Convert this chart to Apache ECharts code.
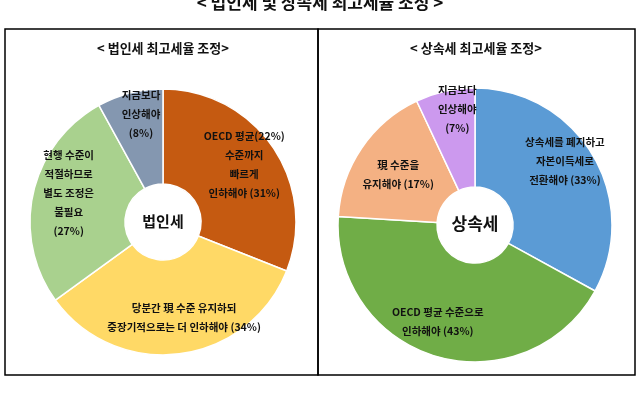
<!DOCTYPE html><html><head><meta charset="utf-8"><script src="https://cdn.jsdelivr.net/npm/echarts@6/dist/echarts.min.js"></script></head><body style="margin:0;background:#fff"><div id="c" style="width:640px;height:402px"></div><script>
const leftNames=['OECD 평균(22%)\n수준까지\n빠르게\n인하해야 (31%)','당분간 現 수준 유지하되\n중장기적으로는 더 인하해야 (34%)','현행 수준이\n적절하므로\n별도 조정은\n불필요\n(27%)','지금보다\n인상해야\n(8%)'];
const leftVals=[31,34,27,8];
const leftColors=['#C55A11','#FFD966','#A9D18E','#8497B0'];
const rightNames=['상속세를 폐지하고\n자본이득세로\n전환해야 (33%)','OECD 평균 수준으로\n인하해야 (43%)','現 수준을\n유지해야 (17%)','지금보다\n인상해야\n(7%)'];
const rightVals=[33,43,17,7];
const rightColors=['#5B9BD5','#70AD47','#F4B183','#CC99EE'];
const leftOff=[[8,-8],[10,8],[-8,-10],[0,-22]];
const rightOff=[[12,-18],[-12,10],[-2,0],[2,-28]];
const F='"Noto Sans CJK KR"';
function mk(names,vals,cols,offs,cx,cy,r){return {type:'pie',center:[cx,cy],radius:[38,r],startAngle:90,clockwise:true,
 itemStyle:{borderColor:'#fff',borderWidth:1.5},labelLine:{show:false},
 data:vals.map((v,i)=>({value:v,name:names[i],itemStyle:{color:cols[i]},label:{offset:offs[i],color:(cols[i]=='#C55A11'||cols[i]=='#5B9BD5'||cols[i]=='#70AD47')?'#111':'#111'}})),
 label:{position:'inside',formatter:'{b}',fontFamily:F,fontSize:10.5,fontWeight:'bold',lineHeight:19,color:'#111'}};}
const ch=echarts.init(document.getElementById('c'));
ch.setOption({animation:false,
 graphic:[
 {type:'rect',shape:{x:5,y:29,width:313,height:346},style:{fill:'none',stroke:'#000',lineWidth:1.5}},
 {type:'rect',shape:{x:318,y:29,width:317,height:346},style:{fill:'none',stroke:'#000',lineWidth:1.5}},
 {type:'text',x:320,y:-6,style:{text:'< 법인세 및 상속세 최고세율 조정 >',font:'bold 17px '+F,textAlign:'center',fill:'#111'}},
 {type:'text',x:163,y:42,style:{text:'< 법인세 최고세율 조정>',font:'bold 13px '+F,textAlign:'center',fill:'#111'}},
 {type:'text',x:476,y:42,style:{text:'< 상속세 최고세율 조정>',font:'bold 13px '+F,textAlign:'center',fill:'#111'}},
 {type:'text',x:163,y:214,z:10,style:{text:'법인세',font:'bold 15px '+F,textAlign:'center',fill:'#111'}},
 {type:'text',x:475,y:215,z:10,style:{text:'상속세',font:'bold 17px '+F,textAlign:'center',fill:'#111'}}
 ],
 series:[mk(leftNames,leftVals,leftColors,leftOff,163,222,133),mk(rightNames,rightVals,rightColors,rightOff,475,225,137)]});
</script></body></html>
